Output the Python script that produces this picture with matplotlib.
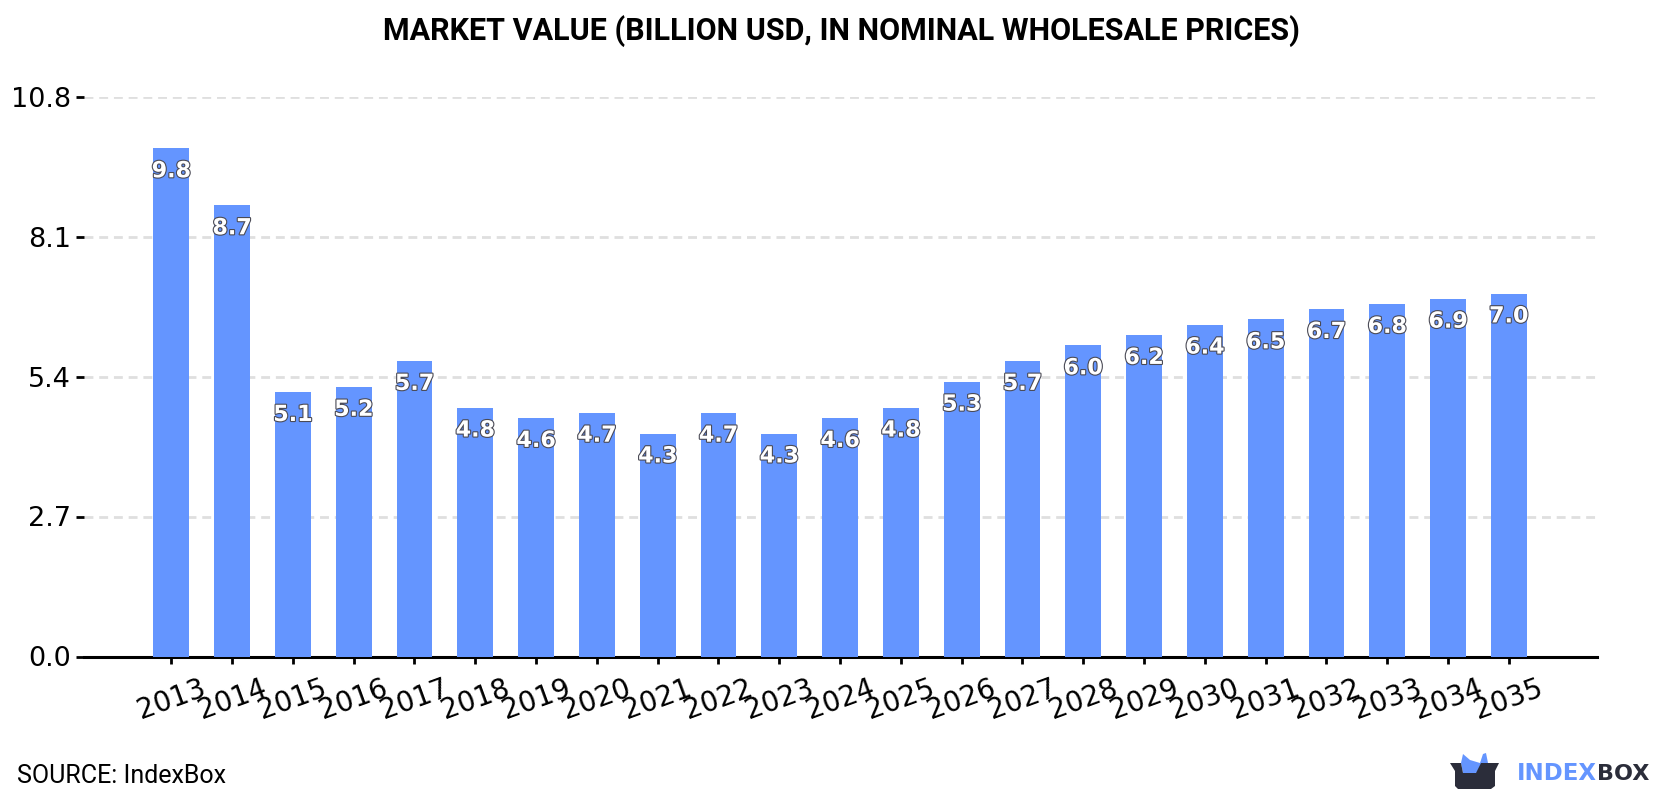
"""Market value bar chart, 2013-2035, with source line and logo."""
import matplotlib
matplotlib.use('Agg')
import matplotlib.pyplot as plt
import matplotlib.patheffects as pe
from matplotlib.patches import Polygon
import numpy as np

years = [2013, 2014, 2015, 2016, 2017, 2018, 2019, 2020, 2021, 2022, 2023, 2024,
         2025, 2026, 2027, 2028, 2029, 2030, 2031, 2032, 2033, 2034, 2035]
values = [9.8, 8.7, 5.1, 5.2, 5.7, 4.8, 4.6, 4.7, 4.3, 4.7, 4.3, 4.6,
          4.8, 5.3, 5.7, 6.0, 6.2, 6.4, 6.5, 6.7, 6.8, 6.9, 7.0]
y_ticks = [0.0, 2.7, 5.4, 8.1, 10.8]

W, H = 1680, 800
c_bar = '#6495FF'
c_dark = '#2B2D3A'

fig = plt.figure(figsize=(W / 100, H / 100), dpi=100)
ax = fig.add_axes([84 / W, 1 - 656.5 / H, (1597 - 84) / W, (656.5 - 96.5) / H])

x = np.arange(len(years))
ax.bar(x, values, width=0.59, color=c_bar, zorder=3)

ax.set_xlim(-1.436, 23.45)
ax.set_ylim(0, 10.8)
ax.set_xticks(x)
ax.set_xticklabels(years, rotation=20, fontsize=20)
ax.set_yticks(y_ticks)
ax.set_yticklabels([f'{t:.1f}' for t in y_ticks], fontsize=19.5)
ax.tick_params(axis='x', length=5, width=2, pad=8)
ax.tick_params(axis='y', length=5.5, width=2, pad=4)
ax.grid(axis='y', color='#DFDFDF', linewidth=2, dashes=(3.2, 2.1), zorder=1)
ax.set_axisbelow(True)
for side in ('top', 'right', 'left'):
    ax.spines[side].set_visible(False)
ax.spines['bottom'].set_linewidth(2.2)

# value labels just under each bar top
outline = [pe.withStroke(linewidth=1.6, foreground='#4A4A55')]
for xi, v in zip(x, values):
    ax.annotate(f'{v:.1f}', xy=(xi, v), xytext=(0, -16.5), textcoords='offset points',
                ha='center', va='center', fontsize=16, fontweight='bold',
                family='DejaVu Sans', color='white', path_effects=outline, zorder=5)

fig.text(841 / W, 1 - 31 / H, 'MARKET VALUE (BILLION USD, IN NOMINAL WHOLESALE PRICES)',
         ha='center', va='center', fontsize=22, fontweight='bold', family='Roboto')
fig.text(17 / W, 1 - 776 / H, 'SOURCE: IndexBox', ha='left', va='center',
         fontsize=18, family='Roboto')

# logo, laid out in pixel coordinates
logo = fig.add_axes([0, 0, 1, 1], facecolor='none')
logo.set_xlim(0, W)
logo.set_ylim(H, 0)
logo.axis('off')
logo.add_patch(Polygon([(1461, 763), (1463, 754), (1470, 760), (1480, 763), (1483, 754),
                        (1486, 753), (1488, 763), (1486, 772), (1475, 773), (1463, 773)],
                       closed=True, color=c_bar, lw=0))
logo.add_patch(Polygon([(1450, 763), (1461, 763), (1463, 773), (1476, 773), (1481, 763),
                        (1499, 763), (1495, 771), (1495, 786), (1491, 789), (1458, 789),
                        (1455, 786), (1455, 771)],
                       closed=True, color=c_dark, lw=0))
logo.text(1517, 773.5, 'INDEX', ha='left', va='center', fontsize=16.5,
          fontweight='bold', family='DejaVu Sans', color=c_bar)
logo.text(1597, 773.5, 'BOX', ha='left', va='center', fontsize=16,
          fontweight='bold', family='DejaVu Sans', color=c_dark)

fig.savefig('out.png', dpi=100)
